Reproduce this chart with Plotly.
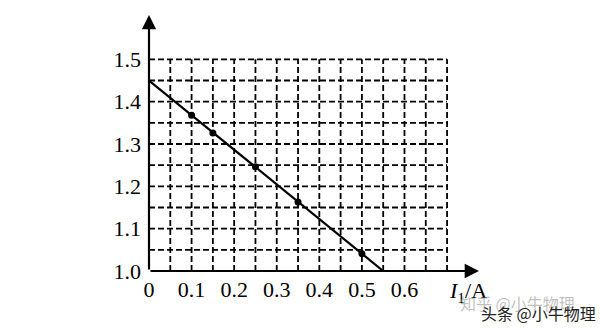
import plotly.graph_objects as go

# data
point_x = [0.10, 0.15, 0.25, 0.35, 0.50]
point_y = [1.368, 1.326, 1.246, 1.163, 1.041]
fit_x = [0.0, 0.55]
fit_y = [1.45, 1.0]
x_ticks = [0, 0.1, 0.2, 0.3, 0.4, 0.5, 0.6]
x_tick_text = ["0", "0.1", "0.2", "0.3", "0.4", "0.5", "0.6"]
y_ticks = [1.0, 1.1, 1.2, 1.3, 1.4, 1.5]
y_tick_text = ["1.0", "1.1", "1.2", "1.3", "1.4", "1.5"]
grid_x = [0.05 * i for i in range(1, 15)]
grid_y = [1.0 + 0.05 * i for i in range(1, 11)]
x_label = "<i>I</i><sub>1</sub>/A"

FONT = "Liberation Serif, Times New Roman, serif"

fig = go.Figure()
fig.add_trace(go.Scatter(x=fit_x, y=fit_y, mode="lines",
                         line=dict(color="black", width=2.2), showlegend=False))
fig.add_trace(go.Scatter(x=point_x, y=point_y, mode="markers",
                         marker=dict(color="black", size=7), showlegend=False))

shapes = []
for gx in grid_x:
    shapes.append(dict(type="line", xref="x", yref="y", x0=gx, x1=gx, y0=1.0, y1=1.5,
                       line=dict(color="black", width=1.8, dash="6px,3px"), layer="below"))
for gy in grid_y:
    shapes.append(dict(type="line", xref="x", yref="y", x0=0, x1=0.7, y0=gy, y1=gy,
                       line=dict(color="black", width=1.8, dash="6px,3px"), layer="below"))

annotations = [
    # axis arrows
    dict(x=0.775, y=1.0, ax=0, ay=1.0, xref="x", yref="y", axref="x", ayref="y",
         showarrow=True, arrowhead=2, arrowsize=1.3, arrowwidth=2.2, arrowcolor="black", text=""),
    dict(x=0, y=1.605, ax=0, ay=1.0, xref="x", yref="y", axref="x", ayref="y",
         showarrow=True, arrowhead=2, arrowsize=1.3, arrowwidth=2.2, arrowcolor="black", text=""),
    dict(x=0.749, y=1.0, xref="x", yref="y", yanchor="top", xanchor="center", yshift=-5,
         text=x_label, showarrow=False, font=dict(family=FONT, size=22, color="black")),
    dict(x=0.935, y=-0.125, xref="paper", yref="paper", xanchor="left", yanchor="middle",
         text="知乎 @小牛物理", showarrow=False,
         font=dict(family="Noto Sans CJK SC", size=16, color="rgba(150,150,150,0.6)")),
    dict(x=1.0, y=-0.165, xref="paper", yref="paper", xanchor="left", yanchor="middle",
         text="头条 @小牛物理", showarrow=False,
         font=dict(family="Noto Sans CJK SC", size=16, color="#222")),
]

fig.update_layout(
    width=600, height=331,
    margin=dict(l=149, r=121, t=17, b=60),
    paper_bgcolor="white", plot_bgcolor="white",
    shapes=shapes, annotations=annotations,
    xaxis=dict(range=[0, 0.775], tickvals=x_ticks, ticktext=x_tick_text,
               showgrid=False, zeroline=False, showline=False, ticks="",
               ticklabelstandoff=3,
               tickfont=dict(family=FONT, size=22, color="black")),
    yaxis=dict(range=[1.0, 1.6], tickvals=y_ticks, ticktext=y_tick_text,
               showgrid=False, zeroline=False, showline=False, ticks="",
               ticklabelstandoff=7,
               tickfont=dict(family=FONT, size=22, color="black")),
)

fig.write_html("out.html")
